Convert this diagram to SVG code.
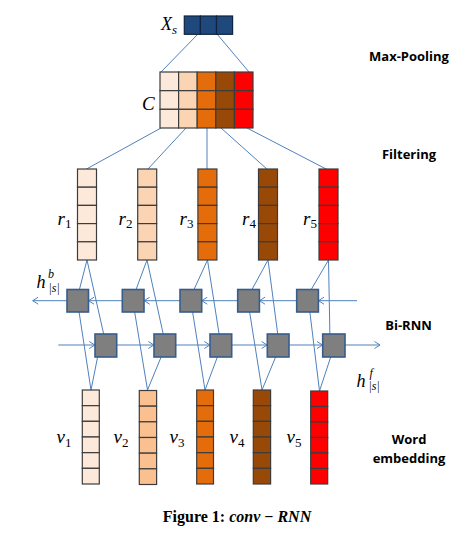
<svg xmlns="http://www.w3.org/2000/svg" width="474" height="539" viewBox="0 0 474 539">
<style>
.bg{fill:#ffffff}
.cell{stroke:#3c3c3c;stroke-width:1.2}
.c1{fill:#FDE9D9}.c2{fill:#FBD4B4}.c2v{fill:#FAC090}.c3{fill:#E46C0A}.c4{fill:#984807}.c5{fill:#FF0000}
.xs{fill:#1F497D;stroke:#10233F;stroke-width:1.2}
.sq{fill:#7F7F7F;stroke:#385D8A;stroke-width:1.6}
.ln{stroke:#4F81BD;stroke-width:1;fill:none}
.arr{stroke:#4F81BD;stroke-width:1;fill:none;marker-end:url(#ah)}
.math{font-family:"Liberation Serif","Times New Roman",serif;font-style:italic;fill:#000}
.lab{font-family:"Open Sans","Liberation Sans",Arial,sans-serif;font-weight:bold;font-size:13px;fill:#000;text-anchor:middle}
.cap{font-family:"Liberation Serif","Times New Roman",serif;font-weight:bold;font-size:16px;fill:#000;text-anchor:middle}
</style>
<defs>
<marker id="ah" markerWidth="8" markerHeight="8" refX="6" refY="4" orient="auto" markerUnits="userSpaceOnUse">
<path d="M0.5,0.5 L6,4 L0.5,7.5" fill="none" stroke="#4F81BD" stroke-width="1"/>
</marker>
</defs>
<rect class="bg" x="0" y="0" width="474" height="539"/>

<g id="connectors">
<line class="ln" x1="198" y1="34" x2="161" y2="72"/>
<line class="ln" x1="217" y1="34" x2="249" y2="72"/>
<line class="ln" x1="161" y1="128" x2="86.5" y2="169"/>
<line class="ln" x1="186" y1="128" x2="147" y2="170"/>
<line class="ln" x1="207" y1="128" x2="207" y2="170"/>
<line class="ln" x1="221" y1="128" x2="268" y2="170"/>
<line class="ln" x1="247" y1="128" x2="328" y2="170"/>
<line class="ln" x1="87" y1="260" x2="78" y2="295"/>
<line class="ln" x1="78" y1="305" x2="91" y2="390"/>
<line class="ln" x1="87" y1="260" x2="105" y2="340"/>
<line class="ln" x1="99" y1="350" x2="91" y2="390"/>
<line class="ln" x1="147" y1="260" x2="134" y2="295"/>
<line class="ln" x1="133.5" y1="305" x2="147.5" y2="390"/>
<line class="ln" x1="147" y1="260" x2="164.5" y2="340"/>
<line class="ln" x1="164" y1="350" x2="147.5" y2="390"/>
<line class="ln" x1="207.5" y1="260" x2="191.5" y2="295"/>
<line class="ln" x1="191.5" y1="305" x2="205" y2="390"/>
<line class="ln" x1="207.5" y1="260" x2="220" y2="340"/>
<line class="ln" x1="220" y1="350" x2="205" y2="390"/>
<line class="ln" x1="268" y1="260" x2="249" y2="295"/>
<line class="ln" x1="248.5" y1="305" x2="262" y2="390"/>
<line class="ln" x1="268" y1="260" x2="278.5" y2="340"/>
<line class="ln" x1="278.5" y1="350" x2="262" y2="390"/>
<line class="ln" x1="328.5" y1="260" x2="308" y2="295"/>
<line class="ln" x1="309" y1="305" x2="319.5" y2="391"/>
<line class="ln" x1="328.5" y1="260" x2="330" y2="340"/>
<line class="ln" x1="333" y1="350" x2="319.5" y2="391"/>
<line class="arr" x1="357" y1="300.7" x2="318.5" y2="300.7"/>
<line class="arr" x1="296.7" y1="300.7" x2="259.5" y2="300.7"/>
<line class="arr" x1="237.7" y1="300.7" x2="201.8" y2="300.7"/>
<line class="arr" x1="180" y1="300.7" x2="144.2" y2="300.7"/>
<line class="arr" x1="122.3" y1="300.7" x2="88.5" y2="300.7"/>
<line class="arr" x1="67" y1="300.7" x2="32.7" y2="300.7"/>
<line class="arr" x1="58.3" y1="345" x2="94.8" y2="345"/>
<line class="arr" x1="116.7" y1="345" x2="153.8" y2="345"/>
<line class="arr" x1="175.7" y1="345" x2="209.8" y2="345"/>
<line class="arr" x1="231.7" y1="345" x2="267.1" y2="345"/>
<line class="arr" x1="289.3" y1="345" x2="322.5" y2="345"/>
<line class="arr" x1="345" y1="345" x2="380" y2="345"/>
</g>

<g id="xs">
<rect class="xs" x="184.3" y="16" width="16.1" height="18.3"/>
<rect class="xs" x="200.4" y="16" width="16.1" height="18.3"/>
<rect class="xs" x="216.5" y="16" width="16.1" height="18.3"/>
</g>

<g id="c">
<rect class="cell c1" x="160" y="72" width="18.6" height="18.67"/>
<rect class="cell c1" x="160" y="90.67" width="18.6" height="18.67"/>
<rect class="cell c1" x="160" y="109.33" width="18.6" height="18.67"/>
<rect class="cell c2" x="178.6" y="72" width="18.6" height="18.67"/>
<rect class="cell c2" x="178.6" y="90.67" width="18.6" height="18.67"/>
<rect class="cell c2" x="178.6" y="109.33" width="18.6" height="18.67"/>
<rect class="cell c3" x="197.2" y="72" width="18.6" height="18.67"/>
<rect class="cell c3" x="197.2" y="90.67" width="18.6" height="18.67"/>
<rect class="cell c3" x="197.2" y="109.33" width="18.6" height="18.67"/>
<rect class="cell c4" x="215.8" y="72" width="18.6" height="18.67"/>
<rect class="cell c4" x="215.8" y="90.67" width="18.6" height="18.67"/>
<rect class="cell c4" x="215.8" y="109.33" width="18.6" height="18.67"/>
<rect class="cell c5" x="234.4" y="72" width="18.6" height="18.67"/>
<rect class="cell c5" x="234.4" y="90.67" width="18.6" height="18.67"/>
<rect class="cell c5" x="234.4" y="109.33" width="18.6" height="18.67"/>
</g>

<g id="r1">
<rect class="cell c1" x="77.5" y="169" width="19" height="18.2"/>
<rect class="cell c1" x="77.5" y="187.2" width="19" height="18.2"/>
<rect class="cell c1" x="77.5" y="205.4" width="19" height="18.2"/>
<rect class="cell c1" x="77.5" y="223.6" width="19" height="18.2"/>
<rect class="cell c1" x="77.5" y="241.8" width="19" height="18.2"/>
</g>
<g id="r2">
<rect class="cell c2" x="137.7" y="169" width="19" height="18.2"/>
<rect class="cell c2" x="137.7" y="187.2" width="19" height="18.2"/>
<rect class="cell c2" x="137.7" y="205.4" width="19" height="18.2"/>
<rect class="cell c2" x="137.7" y="223.6" width="19" height="18.2"/>
<rect class="cell c2" x="137.7" y="241.8" width="19" height="18.2"/>
</g>
<g id="r3">
<rect class="cell c3" x="197.9" y="169" width="19" height="18.2"/>
<rect class="cell c3" x="197.9" y="187.2" width="19" height="18.2"/>
<rect class="cell c3" x="197.9" y="205.4" width="19" height="18.2"/>
<rect class="cell c3" x="197.9" y="223.6" width="19" height="18.2"/>
<rect class="cell c3" x="197.9" y="241.8" width="19" height="18.2"/>
</g>
<g id="r4">
<rect class="cell c4" x="258.5" y="169" width="19" height="18.2"/>
<rect class="cell c4" x="258.5" y="187.2" width="19" height="18.2"/>
<rect class="cell c4" x="258.5" y="205.4" width="19" height="18.2"/>
<rect class="cell c4" x="258.5" y="223.6" width="19" height="18.2"/>
<rect class="cell c4" x="258.5" y="241.8" width="19" height="18.2"/>
</g>
<g id="r5">
<rect class="cell c5" x="319" y="169" width="19" height="18.2"/>
<rect class="cell c5" x="319" y="187.2" width="19" height="18.2"/>
<rect class="cell c5" x="319" y="205.4" width="19" height="18.2"/>
<rect class="cell c5" x="319" y="223.6" width="19" height="18.2"/>
<rect class="cell c5" x="319" y="241.8" width="19" height="18.2"/>
</g>

<g id="backward-rnn">
<rect class="sq" x="67" y="289.5" width="21.5" height="22.5"/>
<rect class="sq" x="122.3" y="289.5" width="21.7" height="22.5"/>
<rect class="sq" x="180" y="289.5" width="21.7" height="22.5"/>
<rect class="sq" x="237.7" y="289.5" width="21.7" height="22.5"/>
<rect class="sq" x="296.7" y="289.5" width="21.7" height="22.5"/>
</g>
<g id="forward-rnn">
<rect class="sq" x="95" y="334" width="21.7" height="23"/>
<rect class="sq" x="154" y="334" width="21.7" height="23"/>
<rect class="sq" x="210" y="334" width="21.7" height="23"/>
<rect class="sq" x="267.3" y="334" width="21.7" height="23"/>
<rect class="sq" x="322.7" y="334" width="22.3" height="23"/>
</g>

<g id="v1">
<rect class="cell c1" x="82.3" y="390" width="17" height="15.67"/>
<rect class="cell c1" x="82.3" y="405.67" width="17" height="15.67"/>
<rect class="cell c1" x="82.3" y="421.33" width="17" height="15.67"/>
<rect class="cell c1" x="82.3" y="437" width="17" height="15.67"/>
<rect class="cell c1" x="82.3" y="452.67" width="17" height="15.67"/>
<rect class="cell c1" x="82.3" y="468.33" width="17" height="15.67"/>
</g>
<g id="v2">
<rect class="cell c2v" x="139.3" y="390.5" width="17.3" height="15.67"/>
<rect class="cell c2v" x="139.3" y="406.17" width="17.3" height="15.67"/>
<rect class="cell c2v" x="139.3" y="421.83" width="17.3" height="15.67"/>
<rect class="cell c2v" x="139.3" y="437.5" width="17.3" height="15.67"/>
<rect class="cell c2v" x="139.3" y="453.17" width="17.3" height="15.67"/>
<rect class="cell c2v" x="139.3" y="468.83" width="17.3" height="15.67"/>
</g>
<g id="v3">
<rect class="cell c3" x="196.7" y="390" width="16.8" height="15.67"/>
<rect class="cell c3" x="196.7" y="405.67" width="16.8" height="15.67"/>
<rect class="cell c3" x="196.7" y="421.33" width="16.8" height="15.67"/>
<rect class="cell c3" x="196.7" y="437" width="16.8" height="15.67"/>
<rect class="cell c3" x="196.7" y="452.67" width="16.8" height="15.67"/>
<rect class="cell c3" x="196.7" y="468.33" width="16.8" height="15.67"/>
</g>
<g id="v4">
<rect class="cell c4" x="253.3" y="390" width="17.3" height="15.67"/>
<rect class="cell c4" x="253.3" y="405.67" width="17.3" height="15.67"/>
<rect class="cell c4" x="253.3" y="421.33" width="17.3" height="15.67"/>
<rect class="cell c4" x="253.3" y="437" width="17.3" height="15.67"/>
<rect class="cell c4" x="253.3" y="452.67" width="17.3" height="15.67"/>
<rect class="cell c4" x="253.3" y="468.33" width="17.3" height="15.67"/>
</g>
<g id="v5">
<rect class="cell c5" x="310.7" y="391" width="17" height="15.5"/>
<rect class="cell c5" x="310.7" y="406.5" width="17" height="15.5"/>
<rect class="cell c5" x="310.7" y="422" width="17" height="15.5"/>
<rect class="cell c5" x="310.7" y="437.5" width="17" height="15.5"/>
<rect class="cell c5" x="310.7" y="453" width="17" height="15.5"/>
<rect class="cell c5" x="310.7" y="468.5" width="17" height="15.5"/>
</g>

<g id="math-labels">
<text class="math" x="161" y="30" font-size="18">X<tspan font-size="13" dy="4">s</tspan></text>
<text class="math" x="142" y="110" font-size="19">C</text>
<text class="math" x="57.5" y="225" font-size="19">r<tspan font-size="13" dy="3" font-style="normal">1</tspan></text>
<text class="math" x="118.5" y="225" font-size="19">r<tspan font-size="13" dy="3" font-style="normal">2</tspan></text>
<text class="math" x="179.5" y="225" font-size="19">r<tspan font-size="13" dy="3" font-style="normal">3</tspan></text>
<text class="math" x="242" y="225" font-size="19">r<tspan font-size="13" dy="3" font-style="normal">4</tspan></text>
<text class="math" x="303" y="225" font-size="19">r<tspan font-size="13" dy="3" font-style="normal">5</tspan></text>
<text class="math" x="56.5" y="443" font-size="19">v<tspan font-size="13" dy="4" font-style="normal">1</tspan></text>
<text class="math" x="113.5" y="443" font-size="19">v<tspan font-size="13" dy="4" font-style="normal">2</tspan></text>
<text class="math" x="169.5" y="443" font-size="19">v<tspan font-size="13" dy="4" font-style="normal">3</tspan></text>
<text class="math" x="229.5" y="443" font-size="19">v<tspan font-size="13" dy="4" font-style="normal">4</tspan></text>
<text class="math" x="286.5" y="443" font-size="19">v<tspan font-size="13" dy="4" font-style="normal">5</tspan></text>
<text class="math" x="36.5" y="288" font-size="18">h</text>
<text class="math" x="48" y="278" font-size="12">b</text>
<text class="math" x="48.5" y="291.5" font-size="12">|s|</text>
<text class="math" x="356.5" y="387" font-size="18">h</text>
<text class="math" x="369.5" y="376.5" font-size="12">f</text>
<text class="math" x="368.5" y="389.5" font-size="12">|s|</text>
</g>

<g id="layer-labels">
<text class="lab" x="409" y="61">Max-Pooling</text>
<text class="lab" x="409" y="158.5">Filtering</text>
<text class="lab" x="408.5" y="329.5">Bi-RNN</text>
<text class="lab" x="409" y="443.5">Word</text>
<text class="lab" x="409" y="462.5">embedding</text>
</g>

<g id="caption">
<text class="cap" x="237" y="522">Figure 1: <tspan font-style="italic">conv</tspan> − <tspan font-style="italic">RNN</tspan></text>
</g>
</svg>
